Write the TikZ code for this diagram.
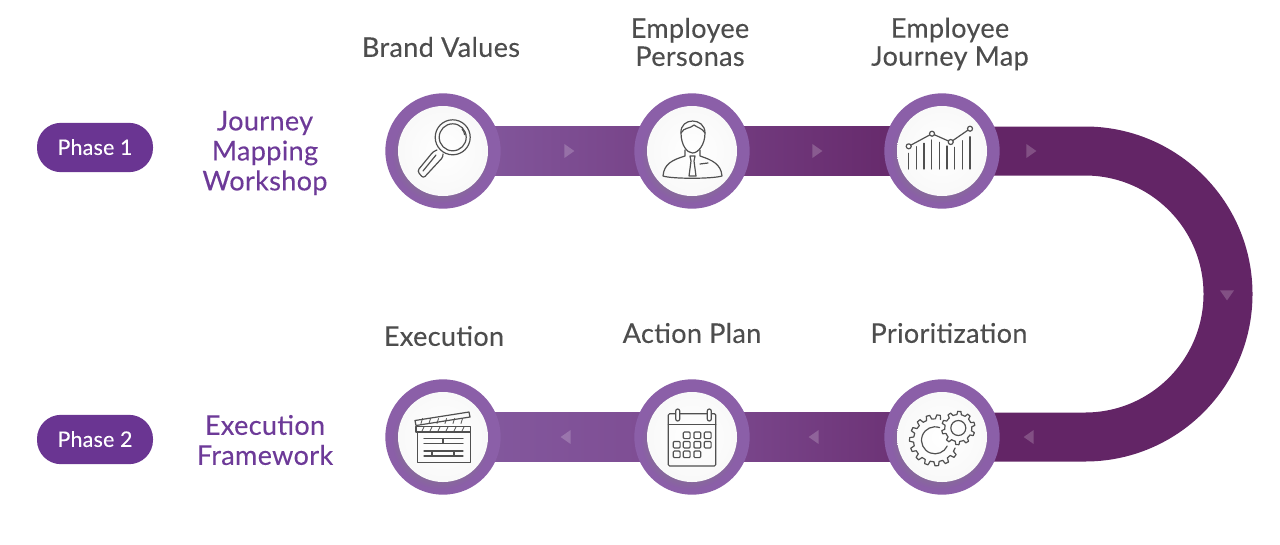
\documentclass[tikz,border=0pt]{standalone}
\usepackage{fontspec}
\setmainfont[LetterSpace=1.2,FakeBold=0.25]{Lato}
\usetikzlibrary{calc,shadows,backgrounds,shapes.geometric}
\definecolor{ringpurple}{HTML}{8B5FA8}
\definecolor{pillpurple}{HTML}{6A3592}
\definecolor{headpurple}{HTML}{6D3A98}
\definecolor{labelgrey}{HTML}{4D4D4D}
\definecolor{icongrey}{HTML}{505050}
\definecolor{trackdark}{HTML}{632566}
\tikzset{every picture/.style={line width=0.75pt}}
\tikzset{
  hubring/.style={circle,fill=ringpurple,minimum size=86.5pt,inner sep=0pt},
  hubface/.style={circle,inner sep=0pt,minimum size=67.5pt,inner color=white,outer color=black!2.5,
    circular drop shadow={shadow xshift=-1.5pt,shadow yshift=-2.5pt,shadow scale=1.08,opacity=.3}},
  steplabel/.style={text=labelgrey,align=center,font=\fontsize{20.3}{21}\selectfont},
  phaselabel/.style={text=headpurple,align=center,font=\fontsize{20.3}{22.5}\selectfont},
  phasepill/.style={rounded corners=18pt,fill=pillpurple,text=white,minimum width=87pt,minimum height=37pt,inner sep=0pt,font=\fontsize{16}{18}\selectfont},
  flowtip/.style={isosceles triangle,isosceles triangle stretches,fill=white,fill opacity=.2,draw=none,minimum width=10.5pt,minimum height=7.5pt,inner sep=0pt,shape border rotate=#1},
  icon/.style={draw=icongrey,line width=0.9pt,line join=round,line cap=round},
}
\begin{document}
\begin{tikzpicture}[x=0.75pt,y=0.75pt,yscale=-1,xscale=1]
\useasboundingbox (0,0) rectangle (1280,544);

% Hubs
\node [hubring] (brand) at (443,151) {};
\node [hubface] (brandface) at (brand) {};
\node [hubring] (persona) at (692,151) {};
\node [hubface] (personaface) at (persona) {};
\node [hubring] (jmap) at (942,151) {};
\node [hubface] (jmapface) at (jmap) {};
\node [hubring] (exec) at (443,437) {};
\node [hubface] (execface) at (exec) {};
\node [hubring] (action) at (692,437) {};
\node [hubface] (actionface) at (action) {};
\node [hubring] (prior) at (942,437) {};
\node [hubface] (priorface) at (prior) {};

% Connection
\begin{pgfonlayer}{background}
\path [left color=ringpurple!95!black,right color=trackdark!55!ringpurple] ($(brand)+(0,-24.5)$) rectangle ($(persona)+(0,24.5)$);
\path [left color=trackdark!55!ringpurple,right color=trackdark] ($(persona)+(0,-24.5)$) rectangle ($(jmap)+(0,24.5)$);
\path [left color=ringpurple!95!black,right color=trackdark!35!ringpurple] ($(exec)+(0,-24.5)$) rectangle ($(action)+(0,24.5)$);
\path [left color=trackdark!35!ringpurple,right color=trackdark!85!ringpurple] ($(action)+(0,-24.5)$) rectangle ($(prior)+(0,24.5)$);
\draw [line width=36.75pt,trackdark] (jmap.center) -- (1085,151) arc [start angle=-90,end angle=90,radius=143] -- (prior.center);
\end{pgfonlayer}

% Flow tips
\node [flowtip=0] (tipa) at (568,151) {};
\node [flowtip=0] (tipb) at (816,151) {};
\node [flowtip=0] (tipc) at (1030,151) {};
\node [flowtip=-90] (tipd) at (1227,294) {};
\node [flowtip=180] (tipe) at (1030,437) {};
\node [flowtip=180] (tipf) at (815,437) {};
\node [flowtip=180] (tipg) at (567,437) {};

% Text Node
\node [steplabel] (brandtext) at (441,47) {Brand Values};
\node [steplabel] (personatext) at (690,42) {Employee\\Personas};
\node [steplabel] (jmaptext) at (950,44) {Employee\\Journey Map};
\node [steplabel] (exectext) at (444,336) {Execution};
\node [steplabel] (actiontext) at (692,333) {Action Plan};
\node [steplabel] (priortext) at (949,333) {Prioritization};
\node [phaselabel] (worktext) at (265,153) {Journey\\Mapping\\Workshop};
\node [phaselabel] (frametext) at (265,440) {Execution\\Framework};
\node [phasepill] (phaseone) at (95,147.5) {\raisebox{0.75pt}{Phase 1}};
\node [phasepill] (phasetwo) at (95,439.5) {\raisebox{0.75pt}{Phase 2}};

% Magnifier
\draw [icon] (452.7,137.3) circle [radius=17.5];
\draw [icon] (452.7,137.3) circle [radius=13.5];
\draw [icon] (462,129) arc [start angle=-45,end angle=-5,radius=9];
\draw [icon,rounded corners=2pt] (437,150) -- (433.3,151.5) -- (417.3,171) -- (423.3,178.3) -- (443.3,156.7) -- (443,154);
\draw [icon] (436,155) -- (423,171);

% Person
\draw [icon] (681,133) .. controls (680,117) and (705,117) .. (705,133) .. controls (705,145) and (698,153) .. (692.5,153) .. controls (687,153) and (681,145) .. (681,133);
\draw [icon] (681,133) .. controls (684,127) and (690,129) .. (694,125) .. controls (698,128) and (702,128) .. (705,133);
\draw [icon] (685,150) -- (685,156) .. controls (672,160) and (664,164) .. (663,176) .. controls (672,179) and (712,179) .. (722,176) .. controls (721,164) and (712,160) .. (700,156) -- (700,150);
\draw [icon] (690,156) -- (695,156) -- (694,161) -- (696,176) -- (689,176) -- (691,161) -- cycle;
\draw [icon] (700,164) -- (708,163);

% Chart
\foreach \px/\py in {908.7/153.3,916.3/146.7,924/143.3,931.7/140,939.3/142.3,947/146,954.7/147.3,962.3/140.7,970/136.7}
  \draw [icon] (\px,\py) -- (\px,169);
\draw [icon] (908.7,146.3) -- (932,133.7) -- (950.7,142) -- (970,128.7);
\foreach \px/\py in {908.7/146.3,932/133.7,950.7/142,970/128.7}
  \draw [icon,fill=white] (\px,\py) circle [radius=2.5];

% Clapper
\draw [icon] (417.3,432) rectangle (470.7,462.7);
\draw [icon] (416,426.3) rectangle (470.7,432);
\draw [icon] (415,420.5) -- (469,412) -- (470,417) -- (416,425.5) -- cycle;
\foreach \px in {422,430,438,446,454,462}
  \draw [icon,line width=0.6pt] (\px,431) -- (\px+2,427);
\foreach \px in {421,429,437,445,453,461}
  \draw [icon,line width=0.6pt] (\px,423.5) -- (\px+1.5,418.5);
\draw [icon] (424,438.5) -- (463,438.5) (424,443.5) -- (463,443.5) (424,451) -- (463,451) (424,456) -- (463,456);
\draw [icon] (443,438.5) -- (443,443.5) (432,451) -- (432,456) (454,451) -- (454,456);

% Calendar
\draw [icon,rounded corners=1pt] (668.3,413.7) rectangle (715.7,466);
\draw [icon] (668.3,424.3) -- (715.7,424.3);
\foreach \px in {677.7,709.3}
  \draw [icon,fill=white,rounded corners=1.5pt] (\px-2,409) rectangle (\px+2,421);
\foreach \px/\py in {686.7/435.3,697.3/435.3,707.7/435.3,676.7/444.7,686.7/444.7,697.3/444.7,707.7/444.7,676.7/454.3,686.7/454.3,697.3/454.3}
  \draw [icon,rounded corners=0.8pt] (\px-3.4,\py-3.3) rectangle (\px+3.4,\py+3.3);

% Gears
\begin{scope}[shift={(935,440.3)}]
\draw [icon] (-75:21.5) \foreach \a in {-75,-99,...,-315} { -- (\a-3:25.5) -- (\a-11:25.5) -- (\a-14:21.5) -- (\a-24:21.5) };
\draw [icon] (-70:13.5) arc [start angle=-70,end angle=-335,radius=13.5];
\end{scope}
\begin{scope}[shift={(958.3,428)}]
\draw [icon] (0:13.5) \foreach \a in {0,-36,...,-324} { -- (\a-5:13.5) -- (\a-9:16.7) -- (\a-20:16.7) -- (\a-24:13.5) -- (\a-36:13.5) } -- cycle;
\draw [icon] (0,0) circle [radius=7.5];
\end{scope}

\end{tikzpicture}
\end{document}
